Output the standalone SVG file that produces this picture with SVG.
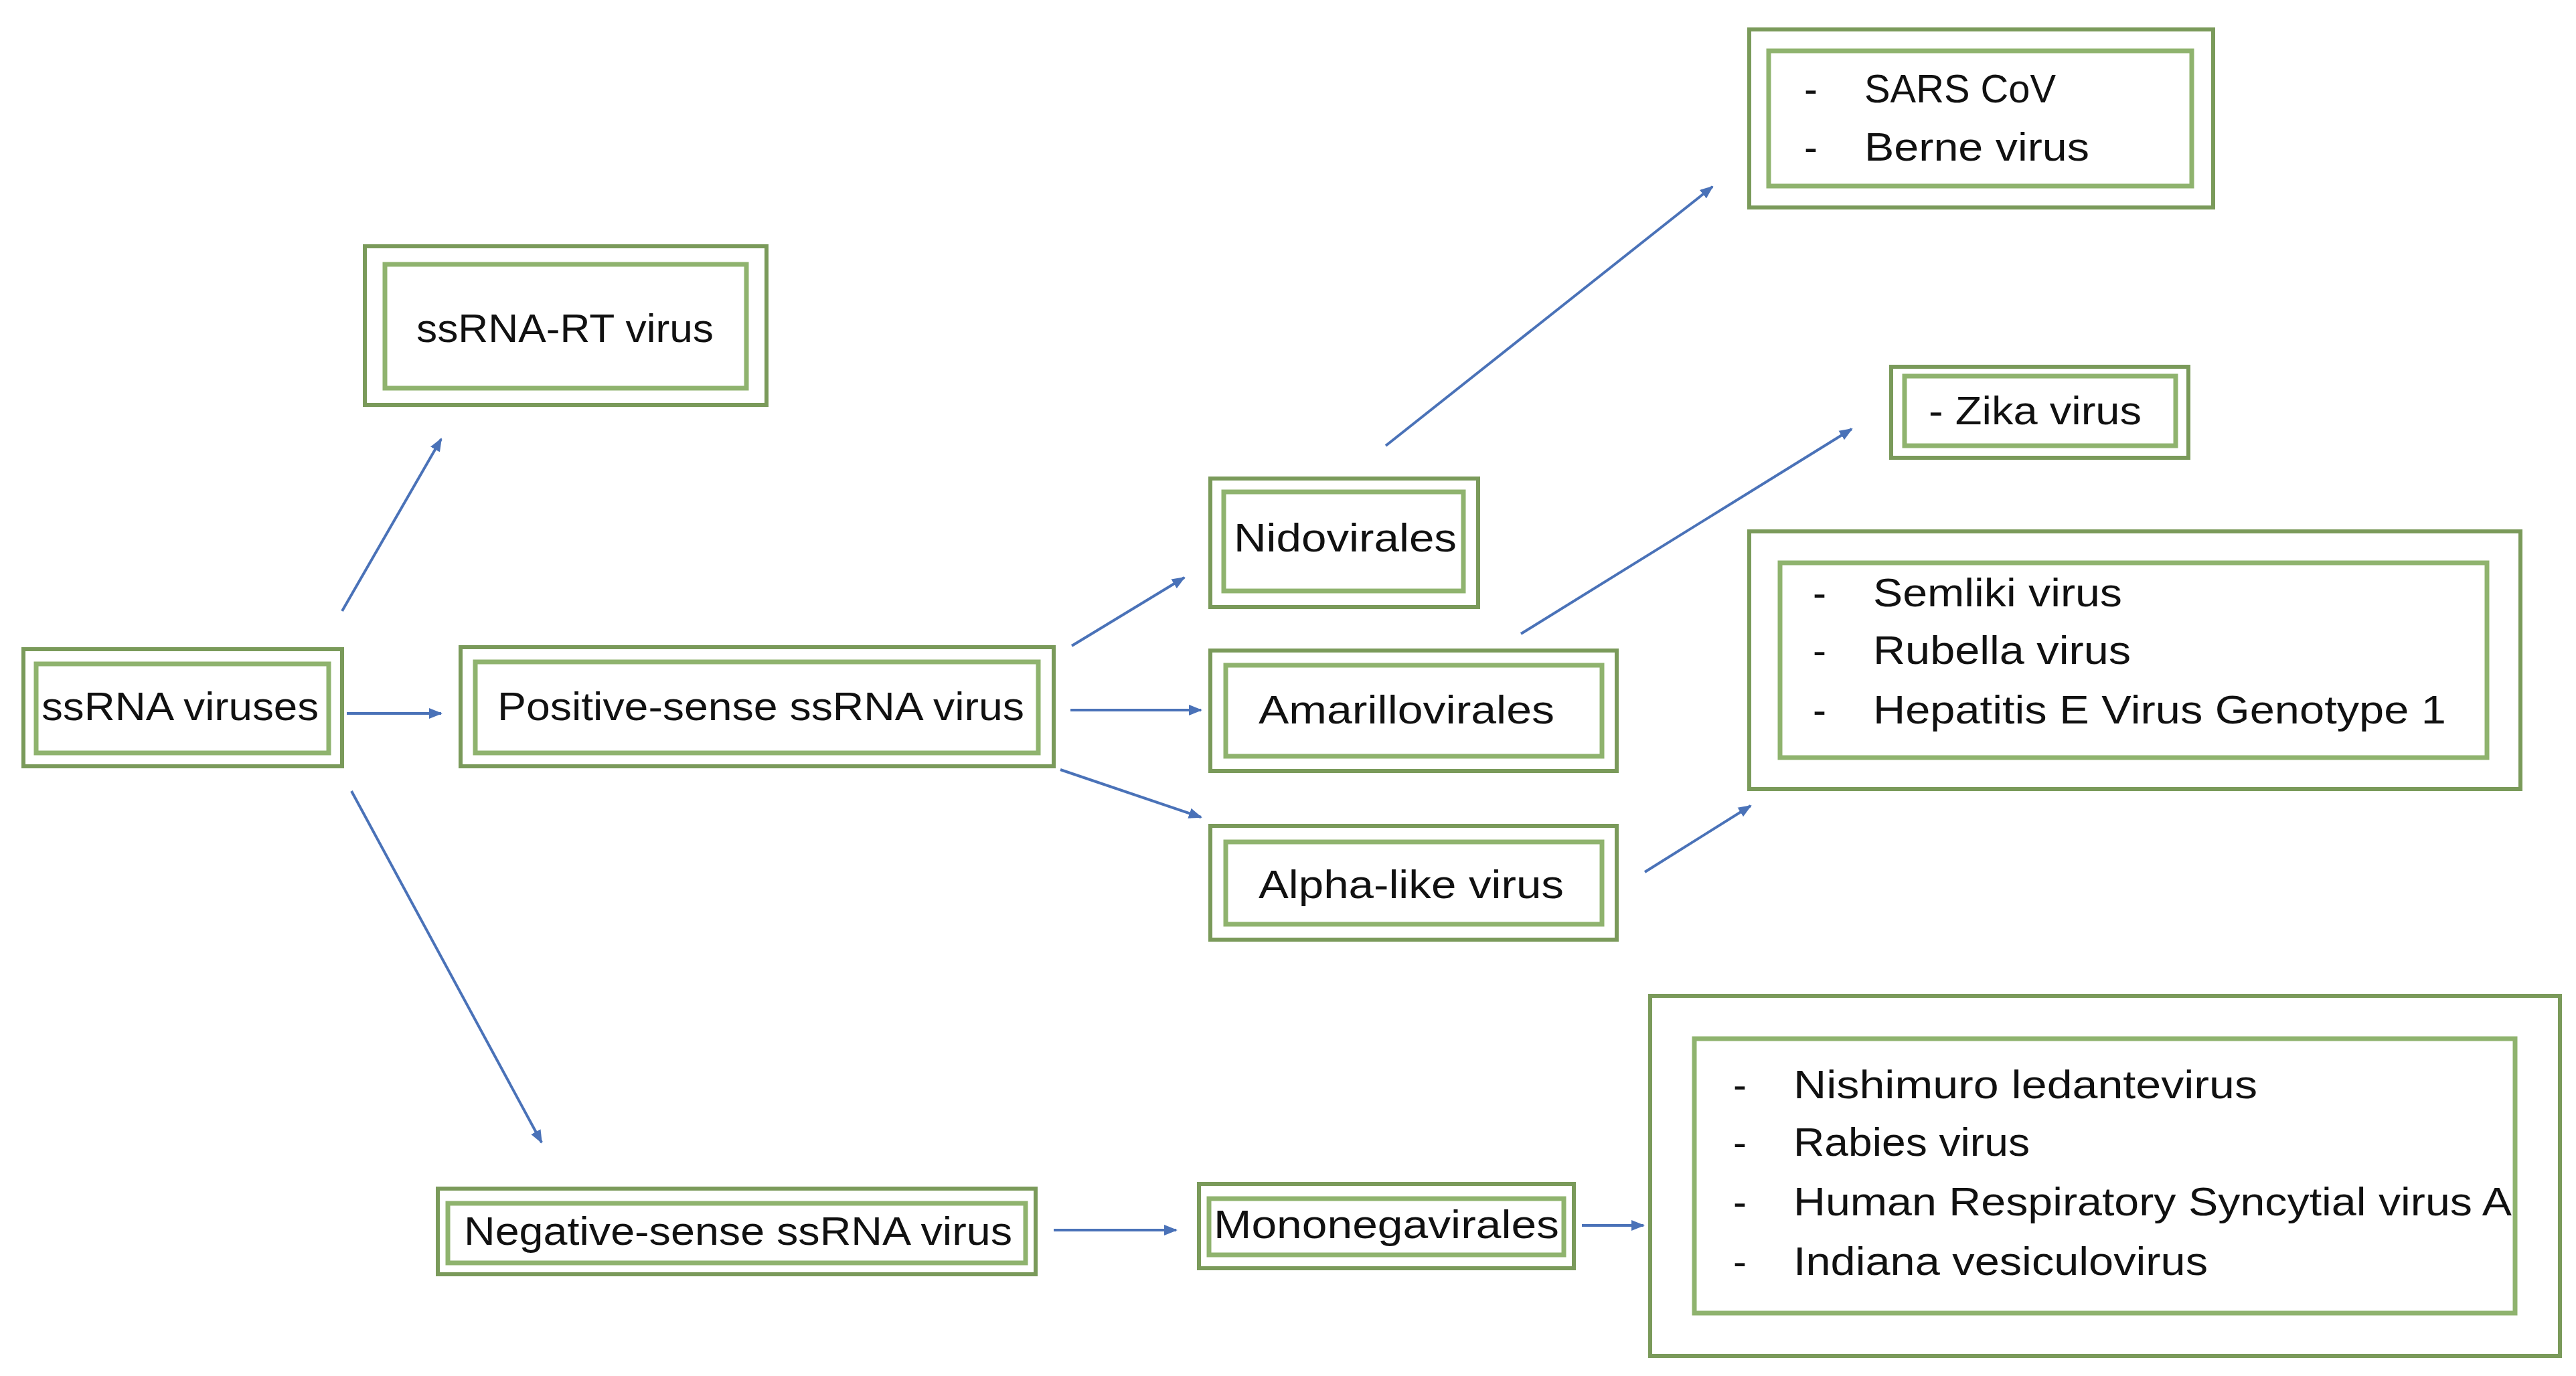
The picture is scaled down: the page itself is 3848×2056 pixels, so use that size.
<svg xmlns="http://www.w3.org/2000/svg" width="3848" height="2056" viewBox="0 0 3848 2056">
<style>
.o{fill:none;stroke:#7a9a5a;stroke-width:6}
.i{fill:none;stroke:#8fb36e;stroke-width:7}
text{font-family:"Liberation Sans",Arial,sans-serif;font-size:60px;fill:#111}
.c{stroke:#4a72b8;stroke-width:4;fill:none;marker-end:url(#a)}
</style>
<defs><marker id="a" viewBox="0 0 10 10" refX="9" refY="5" markerWidth="5" markerHeight="5" orient="auto"><path d="M0,1 L10,5 L0,9 Z" fill="#4a72b8"/></marker></defs>
<rect width="3848" height="2056" fill="#fff"/>
<g id="connectors">
<line class="c" x1="511" y1="913" x2="659" y2="656"/>
<line class="c" x1="518" y1="1066" x2="659" y2="1066"/>
<line class="c" x1="525" y1="1182" x2="809" y2="1707"/>
<line class="c" x1="1601" y1="965" x2="1769" y2="863"/>
<line class="c" x1="1599" y1="1061" x2="1794" y2="1061"/>
<line class="c" x1="1584" y1="1150" x2="1794" y2="1221"/>
<line class="c" x1="2070" y1="666" x2="2558" y2="279"/>
<line class="c" x1="2272" y1="947" x2="2766" y2="641"/>
<line class="c" x1="2457" y1="1303" x2="2615" y2="1204"/>
<line class="c" x1="1574" y1="1838" x2="1757" y2="1838"/>
<line class="c" x1="2363" y1="1831" x2="2455" y2="1831"/>
</g>
<g id="rt"><rect class="o" x="545" y="368" width="600" height="237"/><rect class="i" x="575" y="395" width="540" height="185"/><text x="622" y="511" textLength="444" lengthAdjust="spacingAndGlyphs">ssRNA-RT virus</text></g>
<g id="ssrna"><rect class="o" x="35" y="970" width="476" height="175"/><rect class="i" x="54" y="992" width="437" height="133"/><text x="62" y="1076" textLength="414" lengthAdjust="spacingAndGlyphs">ssRNA viruses</text></g>
<g id="pos"><rect class="o" x="688" y="967" width="886" height="178"/><rect class="i" x="710" y="989" width="841" height="136"/><text x="743" y="1076" textLength="787" lengthAdjust="spacingAndGlyphs">Positive-sense ssRNA virus</text></g>
<g id="nido"><rect class="o" x="1808" y="715" width="400" height="192"/><rect class="i" x="1828" y="735" width="358" height="148"/><text x="1843" y="824" textLength="333" lengthAdjust="spacingAndGlyphs">Nidovirales</text></g>
<g id="amar"><rect class="o" x="1808" y="972" width="607" height="180"/><rect class="i" x="1831" y="994" width="562" height="136"/><text x="1880" y="1081" textLength="442" lengthAdjust="spacingAndGlyphs">Amarillovirales</text></g>
<g id="alpha"><rect class="o" x="1808" y="1234" width="607" height="170"/><rect class="i" x="1831" y="1258" width="562" height="123"/><text x="1880" y="1342" textLength="456" lengthAdjust="spacingAndGlyphs">Alpha-like virus</text></g>
<g id="sars"><rect class="o" x="2613" y="44" width="693" height="266"/><rect class="i" x="2642" y="76" width="632" height="202"/><text x="2695" y="153">-</text><text x="2785" y="153" textLength="286" lengthAdjust="spacingAndGlyphs">SARS CoV</text><text x="2695" y="240">-</text><text x="2785" y="240" textLength="336" lengthAdjust="spacingAndGlyphs">Berne virus</text></g>
<g id="zika"><rect class="o" x="2825" y="548" width="444" height="136"/><rect class="i" x="2845" y="562" width="405" height="104"/><text x="2881" y="634" textLength="318" lengthAdjust="spacingAndGlyphs">- Zika virus</text></g>
<g id="semliki"><rect class="o" x="2613" y="794" width="1152" height="385"/><rect class="i" x="2659" y="841" width="1056" height="291"/><text x="2708" y="906">-</text><text x="2798" y="906" textLength="372" lengthAdjust="spacingAndGlyphs">Semliki virus</text><text x="2708" y="992">-</text><text x="2798" y="992" textLength="385" lengthAdjust="spacingAndGlyphs">Rubella virus</text><text x="2708" y="1081">-</text><text x="2798" y="1081" textLength="856" lengthAdjust="spacingAndGlyphs">Hepatitis E Virus Genotype 1</text></g>
<g id="neg"><rect class="o" x="654" y="1776" width="893" height="128"/><rect class="i" x="669" y="1798" width="863" height="89"/><text x="693" y="1860" textLength="819" lengthAdjust="spacingAndGlyphs">Negative-sense ssRNA virus</text></g>
<g id="mono"><rect class="o" x="1791" y="1769" width="560" height="126"/><rect class="i" x="1806" y="1791" width="530" height="84"/><text x="1813" y="1850" textLength="516" lengthAdjust="spacingAndGlyphs">Mononegavirales</text></g>
<g id="list"><rect class="o" x="2465" y="1488" width="1359" height="538"/><rect class="i" x="2531" y="1552" width="1226" height="410"/><text x="2589" y="1641">-</text><text x="2679" y="1641" textLength="693" lengthAdjust="spacingAndGlyphs">Nishimuro ledantevirus</text><text x="2589" y="1727">-</text><text x="2679" y="1727" textLength="353" lengthAdjust="spacingAndGlyphs">Rabies virus</text><text x="2589" y="1816">-</text><text x="2679" y="1816" textLength="1073" lengthAdjust="spacingAndGlyphs">Human Respiratory Syncytial virus A</text><text x="2589" y="1905">-</text><text x="2679" y="1905" textLength="619" lengthAdjust="spacingAndGlyphs">Indiana vesiculovirus</text></g>
</svg>
